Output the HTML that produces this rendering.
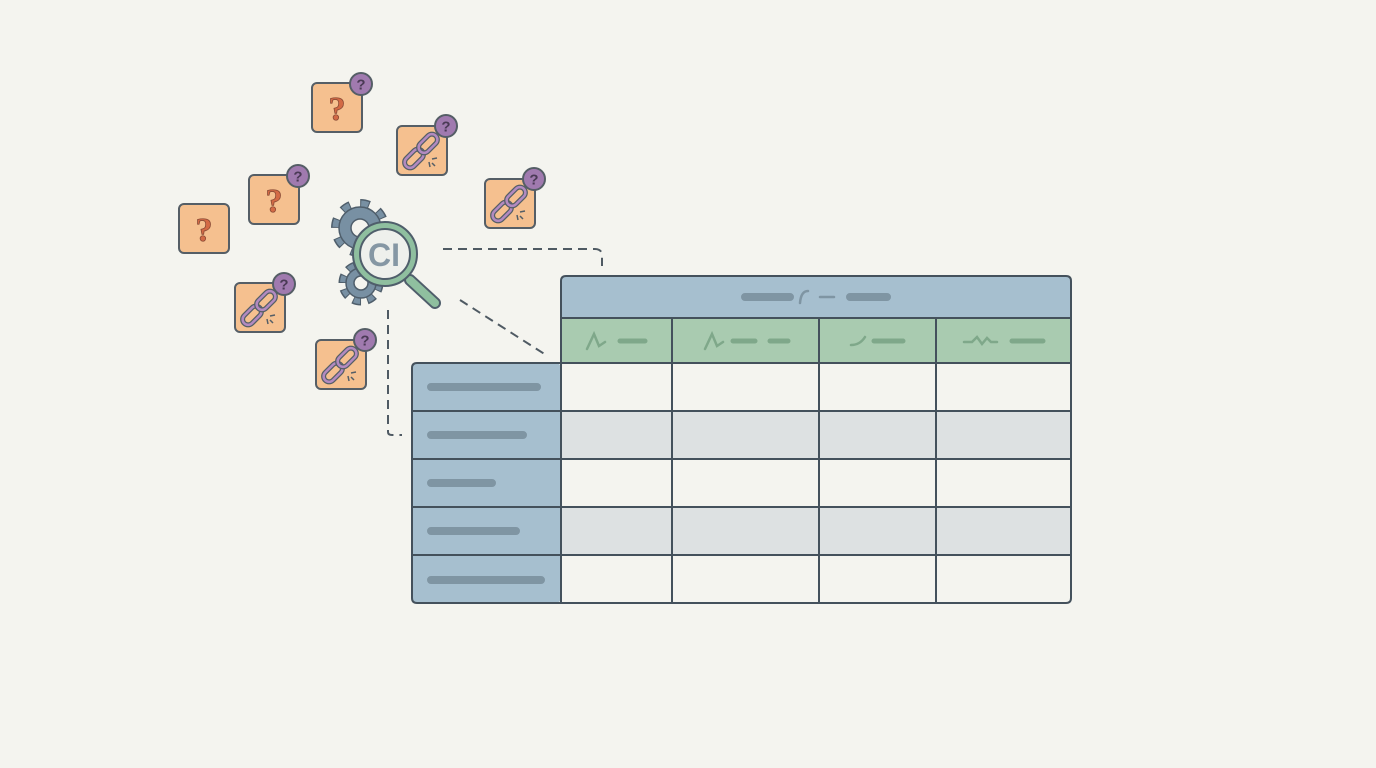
<!DOCTYPE html>
<html><head><meta charset="utf-8"><style>
html,body{margin:0;padding:0;background:#f4f4ef;}
svg{display:block}
</style></head><body>
<svg width="1376" height="768" viewBox="0 0 1376 768" xmlns="http://www.w3.org/2000/svg" font-family="Liberation Sans, sans-serif">
<defs>
<g id="q"><rect x="0" y="0" width="50" height="49" rx="5" fill="#f5c08f" stroke="#555e66" stroke-width="2"/>
<text x="25" y="37" text-anchor="middle" font-size="34" font-weight="bold" fill="#d36a45" stroke="#8a4a35" stroke-width="0.8" font-family="Liberation Serif, serif">?</text></g>
<g id="c"><rect x="0" y="0" width="50" height="49" rx="5" fill="#f5c08f" stroke="#555e66" stroke-width="2"/>
<rect x="6" y="27" width="22" height="11" rx="5.5" transform="rotate(-45 17 32.5)" fill="none" stroke="#555e66" stroke-width="5"/>
<rect x="6" y="27" width="22" height="11" rx="5.5" transform="rotate(-45 17 32.5)" fill="none" stroke="#b28ac0" stroke-width="2.5"/>
<rect x="20" y="12" width="22" height="11" rx="5.5" transform="rotate(-45 31 17.5)" fill="none" stroke="#555e66" stroke-width="5"/>
<rect x="20" y="12" width="22" height="11" rx="5.5" transform="rotate(-45 31 17.5)" fill="none" stroke="#b28ac0" stroke-width="2.5"/>
<path d="M32 36 l1 5 M35 33 l5 -1 M35 37 l3 3" stroke="#555e66" stroke-width="1.5"/></g>
<g id="b"><circle cx="0" cy="0" r="11" fill="#a07aaf" stroke="#555e66" stroke-width="2"/>
<text x="0" y="5.5" text-anchor="middle" font-size="15" font-weight="bold" fill="#4a3a55">?</text></g>
</defs>

<use href="#q" x="312" y="83"/><use href="#b" x="361" y="84"/>
<use href="#c" x="397" y="126"/><use href="#b" x="446" y="126"/>
<use href="#q" x="249" y="175"/><use href="#b" x="298" y="176"/>
<use href="#q" x="179" y="204"/>
<use href="#c" x="485" y="179"/><use href="#b" x="534" y="179"/>
<use href="#c" x="235" y="283"/><use href="#b" x="284" y="284"/>
<use href="#c" x="316" y="340"/><use href="#b" x="365" y="340"/>

<!-- gears -->
<g fill="#7890a3" stroke="#4f5e6b" stroke-width="1.5">
<circle cx="360" cy="228" r="24" fill="none" stroke="#4f5e6b" stroke-width="10" stroke-dasharray="9 9.85"/>
<circle cx="360" cy="228" r="24" fill="none" stroke="#7890a3" stroke-width="7" stroke-dasharray="7 11.85" stroke-dashoffset="-1"/>
<circle cx="360" cy="228" r="21"/>
<circle cx="360" cy="228" r="9" fill="#f4f4ef"/>
<circle cx="361" cy="283" r="18" fill="none" stroke="#4f5e6b" stroke-width="9" stroke-dasharray="8 6.1"/>
<circle cx="361" cy="283" r="18" fill="none" stroke="#7890a3" stroke-width="6" stroke-dasharray="6 8.1" stroke-dashoffset="-1"/>
<circle cx="361" cy="283" r="15"/>
<circle cx="361" cy="283" r="7" fill="#f4f4ef"/>
</g>
<line x1="410" y1="280" x2="435" y2="303" stroke="#4f5e6b" stroke-width="12" stroke-linecap="round"/>
<line x1="410" y1="280" x2="435" y2="303" stroke="#8fbf9f" stroke-width="8" stroke-linecap="round"/>
<circle cx="385" cy="254" r="32" fill="#8fbf9f" stroke="#4f5e6b" stroke-width="2"/>
<circle cx="385" cy="254" r="25" fill="#eef0ec" stroke="#4f5e6b" stroke-width="2"/>
<text x="384" y="266" text-anchor="middle" font-size="32" font-weight="bold" fill="#8597a4">CI</text>

<g fill="none" stroke="#4f5a63" stroke-width="2" stroke-dasharray="9 6">
<path d="M443 249 H595 Q602 249 602 256 V266"/>
<path d="M460 300 L546 355"/>
<path d="M388 310 V432 Q388 435 392 435 H402"/>
</g>

<rect x="561" y="276" width="510" height="88" rx="5" fill="#a6bfcf"/>
<rect x="561" y="318" width="510" height="45" fill="#a9cbb0"/>
<rect x="412" y="363" width="149" height="240" rx="5" fill="#a6bfcf"/>
<rect x="561" y="363" width="510" height="240" fill="#f4f4ef"/>
<rect x="561" y="411" width="510" height="48" fill="#dde1e2"/>
<rect x="561" y="507" width="510" height="48" fill="#dde1e2"/>
<g stroke="#44515c" stroke-width="2" fill="none">
<path d="M561 363 V281 Q561 276 566 276 H1066 Q1071 276 1071 281 V598 Q1071 603 1066 603 H417 Q412 603 412 598 V368 Q412 363 417 363 H1071"/>
<path d="M561 318 H1071 M561 363 V603 M672 318 V603 M819 318 V603 M936 318 V603"/>
<path d="M412 411 H1071 M412 459 H1071 M412 507 H1071 M412 555 H1071"/>
</g>
<g stroke="#7f95a3" stroke-width="8" stroke-linecap="round">
<path d="M745 297 H790 M850 297 H887"/>
<path d="M431 387 H537 M431 435 H523 M431 483 H492 M431 531 H516 M431 580 H541"/>
</g>
<path d="M800 303 Q801 291 808 291 M820 297 H834" stroke="#7f95a3" stroke-width="2.5" fill="none" stroke-linecap="round"/>
<g stroke="#7fa88a" stroke-linecap="round" fill="none">
<path d="M620 341 H645 M733 341 H755 M770 341 H788 M874 341 H903 M1012 341 H1043" stroke-width="5"/>
<path d="M587 349 L594 334 L599 346 L605 342 M705 349 L712 334 L717 346 L723 342 M851 345 Q860 345 865 337 M964 342 H972 L977 337 L982 344 L987 338 L991 342 H997" stroke-width="2.5"/>
</g>
</svg>
</body></html>
